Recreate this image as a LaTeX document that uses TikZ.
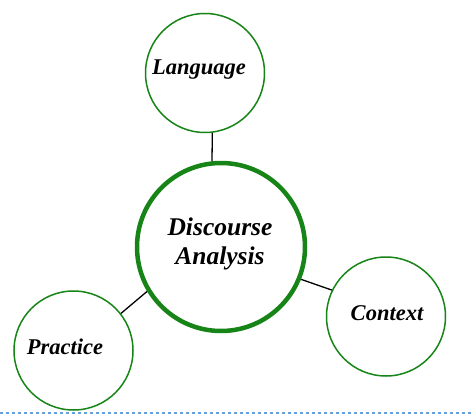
\documentclass[tikz,border=0pt]{standalone}
\usepackage{fontspec}
\setmainfont{Liberation Serif}
\definecolor{ringgreen}{RGB}{22,132,22}
\definecolor{dotblue}{RGB}{100,160,220}
\begin{document}
\begin{tikzpicture}[x=1pt,y=-1pt,
  smallring/.style={circle,draw=ringgreen,line width=1.5pt,inner sep=0pt,minimum size=119pt},
  bigring/.style={circle,draw=ringgreen,line width=4.5pt,inner sep=0pt,minimum size=168pt},
  smalltext/.style={font=\fontsize{22.5}{26}\selectfont\bfseries\itshape},
  bigtext/.style={font=\fontsize{25.5}{29}\selectfont\bfseries\itshape,align=center},
  link/.style={draw=black,line width=1.3pt}]
\useasboundingbox (0,0) rectangle (474,415);
\node[bigring] (main) at (221,247) {};
\node[bigtext] (maint) at (220,244) {Discourse\\Analysis};
\node[smallring] (lang) at (205,73) {};
\node[smalltext] (langt) at (199,70) {Language};
\node[smallring] (prac) at (73.5,350.5) {};
\node[smalltext] (pract) at (65,347) {Practice};
\node[smallring] (ctx) at (386,316.5) {};
\node[smalltext] (ctxt) at (387,313) {Context};
\draw[link] (lang.-83.4) -- (main.96);
\draw[link] (prac.38) -- (main.211.5);
\draw[link] (main.-22) -- (ctx.154.7);
\coordinate (dl) at (0,413);
\coordinate (dr) at (474,413);
\draw[dotblue,line width=2pt,dash pattern=on 3pt off 3pt] (dl) -- (dr);
\end{tikzpicture}
\end{document}
